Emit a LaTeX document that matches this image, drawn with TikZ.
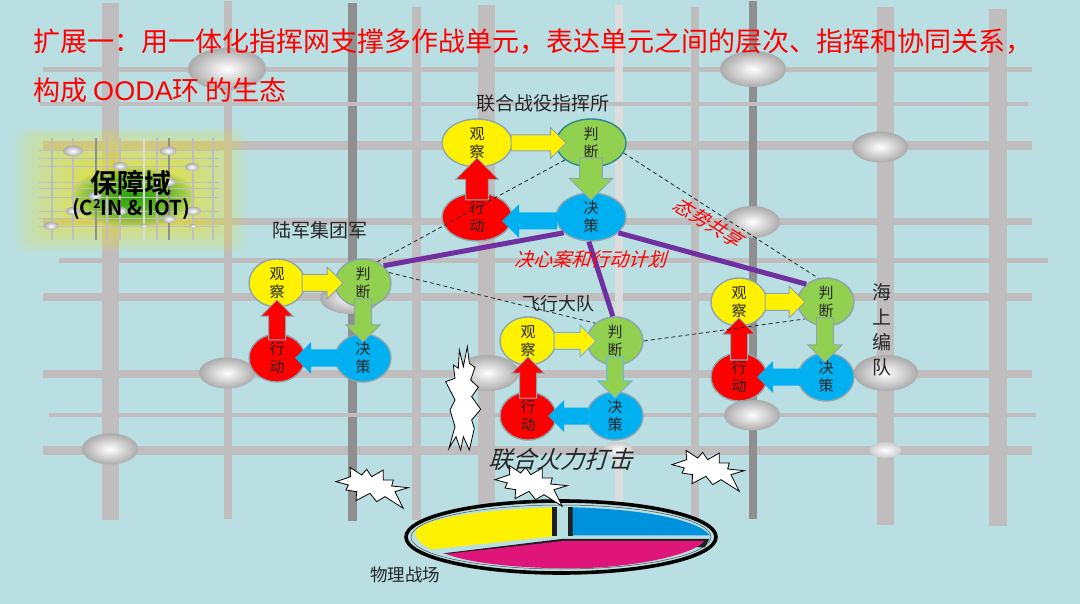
\documentclass[tikz,border=0pt]{standalone}
\usepackage{fontspec}
\setmainfont{Noto Sans CJK SC}[BoldFont={Noto Sans CJK SC Bold}]
\newfontfamily\cjkit[FakeSlant=0.3]{Noto Sans CJK SC}
\newfontfamily\latinsans{Liberation Sans}
\usetikzlibrary{shapes.geometric,shapes.arrows}
\definecolor{bgc}{HTML}{B9DFE3}
\definecolor{road}{HTML}{BFBDBD}
\definecolor{roaddk}{HTML}{8F8F8F}
\definecolor{roadlt}{HTML}{DCDCDC}
\definecolor{rim}{HTML}{8CA5AE}
\definecolor{fgreen}{HTML}{92D050}
\definecolor{fblue}{HTML}{00B0F0}
\definecolor{pur}{HTML}{7030A0}
\definecolor{edgeblue}{HTML}{6EB4EC}
\definecolor{pieblue}{RGB}{0,146,221}
\definecolor{piepink}{RGB}{223,21,122}
\tikzset{
  oval/.style={ellipse,draw=rim,line width=1.4pt,inner sep=0pt,align=center,
    font=\fontsize{15}{18}\selectfont,text=black!85},
  blockarrow/.style={single arrow,inner sep=0pt,outer sep=0pt,anchor=tail,draw=rim,line width=1pt,
    minimum width=31pt,single arrow head extend=7.5pt,single arrow tip angle=90},
  wideblock/.style={minimum width=33pt,single arrow head extend=8.5pt},
  topblock/.style={minimum width=42pt,single arrow head extend=10.2pt},
  purline/.style={draw=pur,line width=5pt},
  dashline/.style={draw=black!85,line width=.8pt,dash pattern=on 4pt off 3pt},
  lab/.style={font=\fontsize{18.5}{20}\selectfont,text=black!85,inner sep=0pt},
  redlab/.style={font=\cjkit\fontsize{19}{20}\selectfont,text=red,inner sep=0pt},
  burst/.style={fill=white,draw=black,line width=.8pt,line join=miter},
}
\newcommand{\shaftsize}[1]{\rule{0pt}{#1pt}}
\newcommand{\hroad}[4]{\fill[road] (#1,#3-#4/2) rectangle (#2,#3+#4/2);}
\newcommand{\vroad}[5][road]{\fill[#1] (#2-#5/2,#3) rectangle (#2+#5/2,#4);}
\newcommand{\ball}[4]{\shade[inner color=white,outer color=black!33] (#1,#2) ellipse[x radius=#3,y radius=#4];}
\newcommand{\ooda}[8]{
  \node[oval,fill=yellow,minimum width=#6pt,minimum height=#7pt] (#1O) at (#2,#4) {观\\察};
  \node[oval,fill=fgreen,minimum width=#6pt,minimum height=#7pt,draw=#8] (#1J) at (#3,#4) {判\\断};
  \node[oval,fill=red,minimum width=#6pt,minimum height=#7pt] (#1A) at (#2,#5) {行\\动};
  \node[oval,fill=fblue,minimum width=#6pt,minimum height=#7pt] (#1D) at (#3,#5) {决\\策};
}
\newcommand{\burstshape}[2]{
  \begin{scope}[shift={(#1,#2)},x=.3333pt,y=-.3333pt]
  \draw[burst] (48,125)--(92,110)--(90,82)--(125,105)--(140,88)--(155,110)--(190,90)--(190,120)--(220,120)--(215,138)--(265,143)--(225,155)--(250,205)--(195,170)--(170,185)--(150,160)--(108,182)--(110,155)--(78,150)--(85,135)--cycle;
  \end{scope}
}
\begin{document}
\begin{tikzpicture}[x=1pt,y=-1pt]
\useasboundingbox (0,0) rectangle (1080,604);
\fill[bgc] (0,0) rectangle (1080,604);
% roads
\hroad{43}{1032}{69.5}{5}
\hroad{43}{1032}{145.5}{9}
\hroad{43}{1032}{221.5}{7}
\hroad{59}{1048}{261}{5}
\hroad{43}{1032}{297}{8}
\hroad{43}{1032}{374}{8}
\hroad{43}{1032}{450}{9}
\vroad{110.5}{3}{520}{17}
\vroad{227.5}{1}{519}{8}
\vroad[roaddk]{352.5}{3}{521}{9}
\vroad{416.5}{7}{520}{9}
\vroad{486.5}{5}{506}{17}
\vroad[roadlt]{619}{5}{506}{8}
\vroad{695}{7}{519}{8}
\vroad[roaddk]{753}{1}{519}{8}
\vroad{885.5}{7}{525}{17}
\vroad{998}{9}{526}{18}
\hroad{40}{1028}{104}{4}
\hroad{49}{1036}{415}{4}
% map balls
\ball{227}{69}{39}{21}
\ball{753}{69}{33}{18}
\ball{880}{147}{28}{15.5}
\ball{752}{222}{28}{16}
\ball{110}{449}{28}{15.5}
\ball{227}{373}{28}{15.5}
\ball{350}{298}{30}{16}
\ball{487}{373}{32}{18}
\ball{752}{415}{28}{15.5}
\ball{886}{373}{32}{18}
\shade[inner color=white,outer color=black!20] (885.5,450) ellipse[x radius=16,y radius=8];
\shade[inner color=white,outer color=black!20] (618,450) ellipse[x radius=15,y radius=8];
% support domain glow
\foreach \i in {0,...,23}{
  \fill[yellow,opacity=.04,rounded corners=10pt] (13+\i*3.5,127+\i*2) rectangle (248-\i*3.5,253-\i*2);
}
\foreach \i in {0,...,15}{
  \fill[green!60!black,opacity=.085] (133,197) ellipse[x radius=62-\i*3.8,y radius=30-\i*1.8];
}
\foreach \yy in {150,158,166,182,188,197,211,218,226}{
  \draw[road,line width=.8pt] (39,\yy)--(219,\yy);
}
\foreach \xx in {52,73,107,120,157,193,213}{
  \draw[road,line width=1.2pt] (\xx,138)--(\xx,240);
}
\draw[roaddk,line width=1.2pt] (96,138)--(96,240);
\draw[roaddk,line width=1.2pt] (169,138)--(169,240);
\draw[roadlt,line width=1.2pt] (144,138)--(144,240);
\ball{73}{151}{10}{5.5}
\ball{168}{151}{8.5}{4.5}
\ball{120}{166}{7.5}{4}
\ball{192}{167}{7}{4}
\ball{169}{182}{7}{4}
\ball{95}{196}{7}{4}
\ball{73}{211}{7}{4}
\ball{120}{211}{7}{4}
\ball{193}{211}{8}{4.5}
\ball{169}{219}{7}{4}
\ball{51}{226}{7.5}{4}
\ball{144}{226}{4}{2}
\ball{193}{226}{4}{2}
\node[font=\bfseries\fontsize{27}{30}\selectfont,inner sep=0pt] (domain) at (131,183) {保障域};
\node[font=\bfseries\fontsize{20.5}{22}\selectfont,inner sep=0pt] (domainsub) at (131,209.5) {(C\raisebox{.35em}{\fontsize{12.5}{13}\selectfont 2}IN \& IOT)};
% battlefield
\fill[bgc] (561,537) ellipse[x radius=156,y radius=37];
\draw[black,line width=3.6pt] (561,537) ellipse[x radius=155,y radius=36];
\draw[black!70,line width=.5pt] (561,537) ellipse[x radius=150,y radius=32];
\begin{scope}[shift={(320,440)},x=.3333pt,y=-.3333pt]
\fill[yellow] (710,202) .. controls (500,208) and (285,235) .. (285,282) .. controls (290,300) and (310,318) .. (335,328) -- (710,288) -- cycle;
\fill[black!88] (695,202) rectangle (710,288);
\fill[black!88] (745,200) rectangle (758,288);
\fill[pieblue] (758,202) -- (758,286) -- (1170,286) .. controls (1130,235) and (950,207) .. (758,202) -- cycle;
\fill[black!88] (370,340) -- (725,297) -- (1168,297) -- (1155,322) -- (1000,320) -- (400,345) -- cycle;
\fill[piepink] (378,342) -- (730,303) -- (1152,303) .. controls (1130,340) and (950,385) .. (750,385) .. controls (600,385) and (450,370) .. (378,342) -- cycle;
\end{scope}
\node[lab,font=\fontsize{17.5}{20}\selectfont] (field) at (405,575) {物理战场};
% bursts
\burstshape{320}{440}
\burstshape{479}{438}
\burstshape{656}{423}
\begin{scope}[shift={(430,280)},x=.3333pt,y=-.3333pt]
\draw[burst] (112,200)--(118,250)--(135,262)--(122,300)--(145,322)--(125,350)--(152,388)--(125,420)--(133,445)--(118,510)--(100,470)--(92,510)--(78,470)--(57,505)--(75,440)--(60,390)--(75,360)--(47,305)--(75,295)--(70,255)--(85,265)--(88,210)--(100,260)--cycle;
\end{scope}
% OODA clusters
\ooda{t}{477}{591}{143}{217}{70}{48}{teal!70!rim}
\ooda{l}{277}{363}{283}{358}{56}{48}{rim}
\ooda{m}{528}{615}{341}{416}{56}{48}{rim}
\ooda{r}{739}{826}{302}{377}{56}{48}{rim}
% command links
\draw[purline] (tD.210) -- (lJ.40);
\draw[purline] (tD.265) -- (mJ.95);
\draw[purline] (tD.-30) -- (rJ.138);
% block arrows top
\node[blockarrow,fill=yellow] (ty) at (511,143) [minimum height=55pt] {\shaftsize{15}};
\node[blockarrow,topblock,fill=fgreen,rotate=-90,minimum height=42pt] (tg) at (591,158) {\shaftsize{21.6}};
\node[blockarrow,fill=fblue,draw=none,rotate=180,minimum height=55pt,minimum width=33pt,single arrow head extend=8.5pt] (tb) at (557,221) {\shaftsize{16}};
\node[blockarrow,topblock,fill=red,rotate=90,minimum height=42pt] (tr) at (477,200) {\shaftsize{21.6}};
% left
\node[blockarrow,fill=yellow,minimum height=41pt] (ly) at (302,283) {\shaftsize{16}};
\node[blockarrow,wideblock,fill=fgreen,rotate=-90,minimum height=43pt] (lg) at (363,299) {\shaftsize{16}};
\node[blockarrow,fill=fblue,draw=none,rotate=180,minimum height=42pt] (lb) at (337,358) {\shaftsize{16}};
\node[blockarrow,fill=red,rotate=90,minimum height=40pt] (lr) at (277,340) {\shaftsize{16}};
% middle
\node[blockarrow,fill=yellow,draw=edgeblue,minimum height=42pt] (my) at (554,341) {\shaftsize{16}};
\node[blockarrow,wideblock,fill=fgreen,draw=edgeblue,rotate=-90,minimum height=41pt] (mg) at (615,357) {\shaftsize{16}};
\node[blockarrow,fill=fblue,draw=none,rotate=180,minimum height=40pt] (mb) at (588,416) {\shaftsize{16}};
\node[blockarrow,fill=red,rotate=90,minimum height=41pt] (mr) at (528,398) {\shaftsize{16}};
% right
\node[blockarrow,fill=yellow,minimum height=40pt] (ry) at (765,302) {\shaftsize{16}};
\node[blockarrow,wideblock,fill=fgreen,rotate=-90,minimum height=44pt] (rg) at (825,318) {\shaftsize{16}};
\node[blockarrow,fill=fblue,draw=none,rotate=180,minimum height=43pt] (rb) at (800,377) {\shaftsize{16}};
\node[blockarrow,fill=red,rotate=90,minimum height=42pt] (rr) at (739,360) {\shaftsize{16}};
% situation links
\draw[dashline] (tJ.213) -- (lJ.56);
\draw[dashline] (lJ.22) -- (mJ.138);
\draw[dashline] (tJ.-17) -- (rJ.108);
\draw[dashline] (mJ.0) -- (rJ.219);
% labels
\node[lab,font=\fontsize{19}{20}\selectfont] (ltop) at (543,103) {联合战役指挥所};
\node[lab,font=\fontsize{19}{20}\selectfont] (lleft) at (320,230) {陆军集团军};
\node[lab,font=\fontsize{18}{20}\selectfont] (lmid) at (558,304) {飞行大队};
\node[lab,align=center,font=\fontsize{19}{25}\selectfont] (lright) at (882,330) {海\\上\\编\\队};
\node[redlab] (plan) at (590,259) {决心案和行动计划};
\node[redlab,rotate=-32] (share) at (708,222) {态势共享};
\node[font=\cjkit\fontsize{24}{26}\selectfont,text=black!85,inner sep=0pt] (fire) at (560,459) {联合火力打击};
\node[anchor=west,text=red,inner sep=0pt,font=\fontsize{27}{30}\selectfont] (title1) at (33,42) {扩展一：用一体化指挥网支撑多作战单元，表达单元之间的层次、指挥和协同关系，};
\node[anchor=west,text=red,inner sep=0pt,font=\fontsize{27}{30}\selectfont] (title2) at (33,90) {构成 {\latinsans OODA}环 的生态};
\end{tikzpicture}
\end{document}
